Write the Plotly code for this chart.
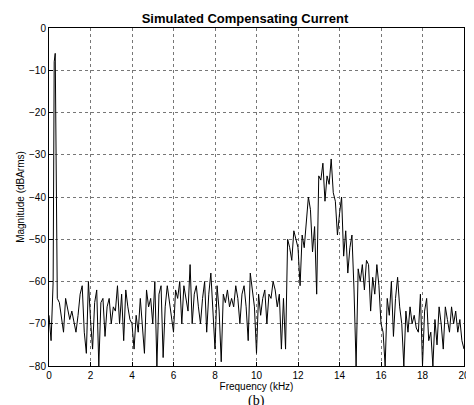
import plotly.graph_objects as go

freq_head = [0.0, 0.1, 0.2, 0.25, 0.3, 0.35, 0.4]
mag_head = [-68, -74, -60, -8, -6, -40, -64]
mag_body = [
    -65,-68,-72,-64,-67,-69,-67,-70,-72,-68,-63,-61,-72,-77,-60,-69,-76,-65,-62,-80,
    -65,-64,-73,-66,-64,-70,-66,-67,-61,-70,-63,-74,-62,-66,-69,-70,-76,-68,-72,-64,
    -71,-77,-62,-66,-64,-70,-60,-80,-63,-61,-78,-66,-61,-65,-69,-72,-62,-64,-60,-70,
    -61,-64,-67,-56,-70,-63,-61,-66,-70,-64,-60,-72,-63,-58,-66,-76,-61,-67,-79,-63,
    -65,-62,-66,-64,-66,-61,-64,-70,-63,-61,-66,-74,-58,-62,-66,-77,
    -63,-68,-64,-62,-70,-63,-64,-60,-62,-66,-63,-76,-64,-76,-50,-52,-55,-48,-50,-52,
    -61,-49,-52,-46,-40,-43,-53,-47,-63,-35,-36,-32,-41,-35,-37,-31,-39,-41,-49,-44,
    -40,-54,-48,-58,-52,-49,-62,-80,-57,-60,-56,-62,-55,-56,-67,-59,-63,-56,-61,-70,
]
mag_tail = [
    -72,-80,-64,-68,-60,-73,-64,-59,-66,-70,-80,-67,-72,-66,-70,-68,-71,-72,-63,-80,
    -67,-64,-74,-72,-80,-69,-75,-66,-70,-76,-66,-69,-72,-66,-70,-67,-72,-69,-74,-76,
]
mags = mag_body + mag_tail
freq_body = [round(0.5 + 0.1 * i, 2) for i in range(len(mags))]
freq = freq_head + freq_body
mag = mag_head + mags

fig = go.Figure(go.Scatter(x=freq, y=mag, mode="lines",
                           line=dict(color="black", width=1)))
axis_common = dict(showgrid=True, gridcolor="#777", griddash="dot", gridwidth=0.7,
                   showline=True, linecolor="black", mirror=True, ticks="inside",
                   ticklen=4, tickcolor="black", zeroline=False,
                   tickfont=dict(size=10, color="black"))
fig.update_xaxes(range=[0, 20], dtick=2, title=dict(text="Frequency (kHz)", font=dict(size=10), standoff=0),
                 **axis_common)
fig.update_yaxes(range=[-80, 0], dtick=10, title=dict(text="Magnitude (dBArms)", font=dict(size=10), standoff=2),
                 **axis_common)
fig.update_layout(
    width=474, height=405, margin=dict(l=40, r=12, t=20, b=47),
    paper_bgcolor="white", plot_bgcolor="white", showlegend=False,
    font=dict(family="Liberation Sans, Arial", color="black"),
    title=dict(text="<b>Simulated Compensating Current</b>", x=0.5, xanchor="center",
               y=0.985, yanchor="top", font=dict(size=13)),
    annotations=[dict(text="(b)", xref="paper", yref="paper", x=0.5, y=-0.075,
                      showarrow=False, yanchor="top",
                      font=dict(family="Liberation Serif", size=14))],
)
fig.write_html("out.html")
